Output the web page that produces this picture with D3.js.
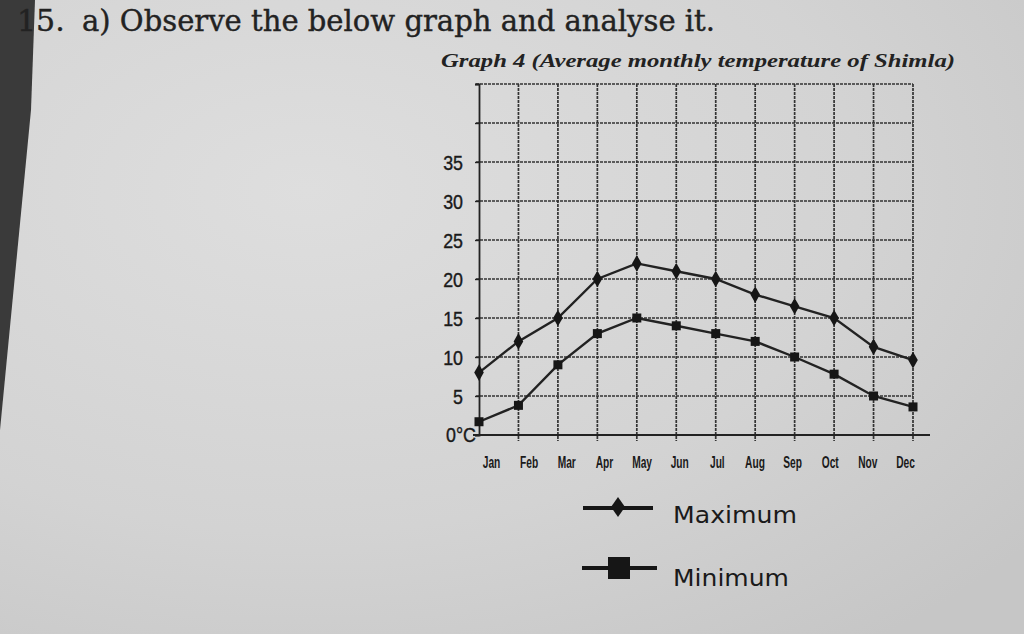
<!DOCTYPE html>
<html>
<head>
<meta charset="utf-8">
<script src="https://cdn.jsdelivr.net/npm/d3@7"></script>
<style>
  html, body { margin: 0; padding: 0; background: #d4d4d4; }
  svg { display: block; }
</style>
</head>
<body>
<svg id="chart" width="1024" height="634"></svg>
<script>
// ---- data ----
const months = ["Jan","Feb","Mar","Apr","May","Jun","Jul","Aug","Sep","Oct","Nov","Dec"];
const maxTemp = [8, 12, 15, 20, 22, 21, 20, 18, 16.5, 15, 11.3, 9.6];
const minTemp = [1.7, 3.8, 9, 13, 15, 14, 13, 12, 10, 7.8, 5, 3.6];
const yTicks = [5, 10, 15, 20, 25, 30, 35];
const gridValues = [0, 5, 10, 15, 20, 25, 30, 35, 40, 45];
const seriesNames = ["Maximum", "Minimum"];

const svg = d3.select("#chart");
const W = 1024, H = 634;

// ---- paper background ----
const defs = svg.append("defs");
const rg = defs.append("radialGradient").attr("id", "paper")
  .attr("cx", "0.3").attr("cy", "0.3").attr("r", "0.9");
rg.append("stop").attr("offset", "0").attr("stop-color", "#dedede");
rg.append("stop").attr("offset", "0.6").attr("stop-color", "#d3d3d3");
rg.append("stop").attr("offset", "1").attr("stop-color", "#c6c6c6");
svg.append("rect").attr("width", W).attr("height", H).attr("fill", "url(#paper)");
// dark page edge on the left
svg.append("path").attr("d", "M0,0 L35,0 L31,110 L0,430 Z").attr("fill", "#3a3a3a");

// ---- headings ----
svg.append("text").attr("x", 17).attr("y", 31)
  .attr("font-family", "DejaVu Serif").attr("font-size", 30).attr("fill", "#222")
  .attr("stroke", "#222").attr("stroke-width", 0.4)
  .text("15.");
svg.append("text").attr("x", 82).attr("y", 31)
  .attr("font-family", "DejaVu Serif").attr("font-size", 30).attr("fill", "#222")
  .attr("stroke", "#222").attr("stroke-width", 0.4)
  .attr("textLength", 633).attr("lengthAdjust", "spacingAndGlyphs")
  .text("a) Observe the below graph and analyse it.");
svg.append("text").attr("x", 441).attr("y", 67)
  .attr("font-family", "Liberation Serif").attr("font-style", "italic").attr("font-weight", "bold")
  .attr("font-size", 18).attr("fill", "#222")
  .attr("textLength", 514).attr("lengthAdjust", "spacingAndGlyphs")
  .text("Graph 4 (Average monthly temperature of Shimla)");

// ---- scales ----
const x = d3.scalePoint().domain(months).range([479, 913]);
const xLab = d3.scalePoint().domain(months).range([491, 905]);
const y = d3.scaleLinear().domain([0, 45]).range([435, 84]);

const ink = "#222";
const gridColor = "#333";

// ---- grid ----
const grid = svg.append("g");
grid.selectAll("line.h").data(gridValues.filter(v => v > 0)).join("line")
  .attr("x1", x("Jan") - 3).attr("x2", x("Dec"))
  .attr("y1", d => y(d)).attr("y2", d => y(d))
  .attr("stroke", gridColor).attr("stroke-width", 1.7).attr("stroke-dasharray", "3,1");
grid.selectAll("line.v").data(months.slice(1)).join("line")
  .attr("x1", d => x(d)).attr("x2", d => x(d))
  .attr("y1", y(45)).attr("y2", y(0) + 6)
  .attr("stroke", gridColor).attr("stroke-width", 1.7).attr("stroke-dasharray", "3,1");

// y axis (left line with ticks)
const yAxis = svg.append("g").attr("transform", `translate(${x("Jan")},0)`)
  .call(d3.axisLeft(y).tickValues(gridValues).tickSize(4).tickFormat(""));
yAxis.select(".domain").attr("stroke", ink).attr("stroke-width", 1.8);
yAxis.selectAll(".tick line").attr("stroke", ink).attr("stroke-width", 1.4);

// x axis line
svg.append("line").attr("x1", 473).attr("x2", 930)
  .attr("y1", y(0)).attr("y2", y(0)).attr("stroke", ink).attr("stroke-width", 1.8);

// y tick labels
svg.append("g").selectAll("text").data(yTicks).join("text")
  .attr("x", 463).attr("y", d => y(d) + 8)
  .attr("text-anchor", "end")
  .attr("font-family", "Liberation Sans").attr("font-size", 21).attr("fill", "#1a1a1a")
  .attr("stroke", "#1a1a1a").attr("stroke-width", 0.4)
  .attr("transform", d => `translate(463,${y(d)}) scale(0.85,1) translate(-463,${-y(d)})`)
  .text(d => d);
svg.append("text").attr("x", 476).attr("y", y(0) + 7)
  .attr("text-anchor", "end")
  .attr("font-family", "Liberation Sans").attr("font-size", 21).attr("fill", "#1a1a1a")
  .attr("stroke", "#1a1a1a").attr("stroke-width", 0.4)
  .attr("transform", `translate(476,${y(0)}) scale(0.85,1) translate(-476,${-y(0)})`)
  .text("0°C");

// month labels via axis
const xAxis = svg.append("g").attr("transform", `translate(0,${y(0)})`)
  .call(d3.axisBottom(xLab).tickSize(0).tickPadding(21));
xAxis.select(".domain").remove();
xAxis.selectAll(".tick text")
  .attr("font-family", "Liberation Sans").attr("font-weight", "bold")
  .attr("font-size", 17).attr("fill", "#1a1a1a")
  .attr("transform", "scale(0.6,1)");

// ---- lines ----
const line = d3.line().x((d, i) => x(months[i])).y(d => y(d));
svg.append("path").datum(maxTemp).attr("d", line)
  .attr("fill", "none").attr("stroke", ink).attr("stroke-width", 2.4);
svg.append("path").datum(minTemp).attr("d", line)
  .attr("fill", "none").attr("stroke", ink).attr("stroke-width", 2.4);

const diamond = d3.symbol().type(d3.symbolDiamond).size(80);
svg.append("g").selectAll("path").data(maxTemp).join("path")
  .attr("d", diamond)
  .attr("transform", (d, i) => `translate(${x(months[i])},${y(d)})`)
  .attr("fill", "#161616");
svg.append("g").selectAll("rect").data(minTemp).join("rect")
  .attr("x", (d, i) => x(months[i]) - 4.5).attr("y", d => y(d) - 4.5)
  .attr("width", 9).attr("height", 9)
  .attr("fill", "#161616");

// ---- legend ----
const leg = svg.append("g");
// Maximum
leg.append("line").attr("x1", 583).attr("x2", 653).attr("y1", 508).attr("y2", 508)
  .attr("stroke", "#161616").attr("stroke-width", 4);
leg.append("path").attr("d", "M0,-10 L7,0 L0,10 L-7,0 Z")
  .attr("transform", "translate(618,507)").attr("fill", "#161616");
leg.append("text").attr("x", 673).attr("y", 523)
  .attr("font-family", "DejaVu Sans").attr("font-size", 23).attr("fill", "#1a1a1a")
  .attr("textLength", 124).attr("lengthAdjust", "spacingAndGlyphs")
  .text(seriesNames[0]);
// Minimum
leg.append("line").attr("x1", 582).attr("x2", 657).attr("y1", 568).attr("y2", 568)
  .attr("stroke", "#161616").attr("stroke-width", 4);
leg.append("rect").attr("x", 608).attr("y", 557).attr("width", 22).attr("height", 22)
  .attr("fill", "#161616");
leg.append("text").attr("x", 673).attr("y", 586)
  .attr("font-family", "DejaVu Sans").attr("font-size", 23).attr("fill", "#1a1a1a")
  .attr("textLength", 116).attr("lengthAdjust", "spacingAndGlyphs")
  .text(seriesNames[1]);
</script>
</body>
</html>
